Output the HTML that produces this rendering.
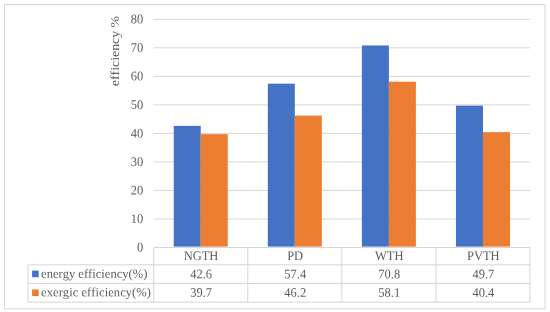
<!DOCTYPE html>
<html lang="en"><head><meta charset="utf-8"><title>efficiency chart</title>
<style>html,body{margin:0;padding:0;background:#fff}body{width:550px;height:312px;overflow:hidden}</style></head>
<body>
<svg width="550" height="312" viewBox="0 0 550 312" style="display:block">
<rect x="0" y="0" width="550" height="312" fill="#fff"/>
<rect x="4.5" y="4.5" width="540.5" height="304.3" fill="#fff" stroke="#d6d6d6" stroke-width="1"/>
<line x1="153.39999999999998" x2="530.0" y1="218.97" y2="218.97" stroke="#d6d6d6" stroke-width="1"/>
<line x1="153.39999999999998" x2="530.0" y1="190.45" y2="190.45" stroke="#d6d6d6" stroke-width="1"/>
<line x1="153.39999999999998" x2="530.0" y1="161.93" y2="161.93" stroke="#d6d6d6" stroke-width="1"/>
<line x1="153.39999999999998" x2="530.0" y1="133.40" y2="133.40" stroke="#d6d6d6" stroke-width="1"/>
<line x1="153.39999999999998" x2="530.0" y1="104.88" y2="104.88" stroke="#d6d6d6" stroke-width="1"/>
<line x1="153.39999999999998" x2="530.0" y1="76.35" y2="76.35" stroke="#d6d6d6" stroke-width="1"/>
<line x1="153.39999999999998" x2="530.0" y1="47.82" y2="47.82" stroke="#d6d6d6" stroke-width="1"/>
<line x1="153.39999999999998" x2="530.0" y1="19.30" y2="19.30" stroke="#d6d6d6" stroke-width="1"/>
<rect x="173.74" y="125.88" width="27.00" height="120.72" fill="#4472C4"/>
<rect x="200.74" y="134.16" width="27.00" height="112.44" fill="#ED7D31"/>
<rect x="267.81" y="83.67" width="27.00" height="162.93" fill="#4472C4"/>
<rect x="294.81" y="115.61" width="27.00" height="130.99" fill="#ED7D31"/>
<rect x="361.89" y="45.44" width="27.00" height="201.16" fill="#4472C4"/>
<rect x="388.89" y="81.67" width="27.00" height="164.93" fill="#ED7D31"/>
<rect x="455.96" y="105.63" width="27.00" height="140.97" fill="#4472C4"/>
<rect x="482.96" y="132.16" width="27.00" height="114.44" fill="#ED7D31"/>
<g stroke="#d6d6d6" stroke-width="1" fill="none">
<line x1="153.7" x2="530.0" y1="247.5" y2="247.5"/>
<line x1="28.0" x2="530.0" y1="264.8" y2="264.8"/>
<line x1="28.0" x2="530.0" y1="283.5" y2="283.5"/>
<line x1="28.0" x2="530.0" y1="302.2" y2="302.2"/>
<line x1="28.0" x2="28.0" y1="264.8" y2="302.2"/>
<line x1="153.7" x2="153.7" y1="247.5" y2="302.2"/>
<line x1="247.77499999999998" x2="247.77499999999998" y1="247.5" y2="302.2"/>
<line x1="341.85" x2="341.85" y1="247.5" y2="302.2"/>
<line x1="435.925" x2="435.925" y1="247.5" y2="302.2"/>
<line x1="530.0" x2="530.0" y1="247.5" y2="302.2"/>
</g>
<g font-family="'Liberation Serif', 'Times New Roman', serif" font-size="12.5" fill="#5c5c5c" style="font-variant-ligatures:none;font-kerning:none">
<text transform="translate(143.30,251.50) rotate(0.03) scale(1,1.045)" text-anchor="end">0</text>
<text transform="translate(143.30,222.97) rotate(0.03) scale(1,1.045)" text-anchor="end">10</text>
<text transform="translate(143.30,194.45) rotate(0.03) scale(1,1.045)" text-anchor="end">20</text>
<text transform="translate(143.30,165.93) rotate(0.03) scale(1,1.045)" text-anchor="end">30</text>
<text transform="translate(143.30,137.40) rotate(0.03) scale(1,1.045)" text-anchor="end">40</text>
<text transform="translate(143.30,108.88) rotate(0.03) scale(1,1.045)" text-anchor="end">50</text>
<text transform="translate(143.30,80.35) rotate(0.03) scale(1,1.045)" text-anchor="end">60</text>
<text transform="translate(143.30,51.82) rotate(0.03) scale(1,1.045)" text-anchor="end">70</text>
<text transform="translate(143.30,23.30) rotate(0.03) scale(1,1.045)" text-anchor="end">80</text>
<text transform="translate(201.04,259.90) rotate(0.03) scale(1,1.045)" text-anchor="middle">NGTH</text>
<text transform="translate(201.14,278.30) rotate(0.03) scale(1,1.045)" text-anchor="middle">42.6</text>
<text transform="translate(201.14,296.80) rotate(0.03) scale(1,1.045)" text-anchor="middle">39.7</text>
<text transform="translate(295.11,259.90) rotate(0.03) scale(1,1.045)" text-anchor="middle">PD</text>
<text transform="translate(295.21,278.30) rotate(0.03) scale(1,1.045)" text-anchor="middle">57.4</text>
<text transform="translate(295.21,296.80) rotate(0.03) scale(1,1.045)" text-anchor="middle">46.2</text>
<text transform="translate(389.19,259.90) rotate(0.03) scale(1,1.045)" text-anchor="middle">WTH</text>
<text transform="translate(389.29,278.30) rotate(0.03) scale(1,1.045)" text-anchor="middle">70.8</text>
<text transform="translate(389.29,296.80) rotate(0.03) scale(1,1.045)" text-anchor="middle">58.1</text>
<text transform="translate(483.26,259.90) rotate(0.03) scale(1,1.045)" text-anchor="middle">PVTH</text>
<text transform="translate(483.36,278.30) rotate(0.03) scale(1,1.045)" text-anchor="middle">49.7</text>
<text transform="translate(483.36,296.80) rotate(0.03) scale(1,1.045)" text-anchor="middle">40.4</text>
<text transform="translate(41.10,277.80) rotate(0.03) scale(1,1.0)" text-anchor="start" letter-spacing="0.02">energy efficiency(%)</text>
<text transform="translate(41.10,296.20) rotate(0.03) scale(1,1.0)" text-anchor="start" letter-spacing="0.06">exergic efficiency(%)</text>
<text transform="translate(119.3,86.2) rotate(-90) scale(1.05,1)" font-size="13.2">efficiency %</text>
</g>
<rect x="32.1" y="270.6" width="6.6" height="6.6" fill="#4472C4"/>
<rect x="32.1" y="289.45" width="6.6" height="6.6" fill="#ED7D31"/>
</svg>
</body></html>
